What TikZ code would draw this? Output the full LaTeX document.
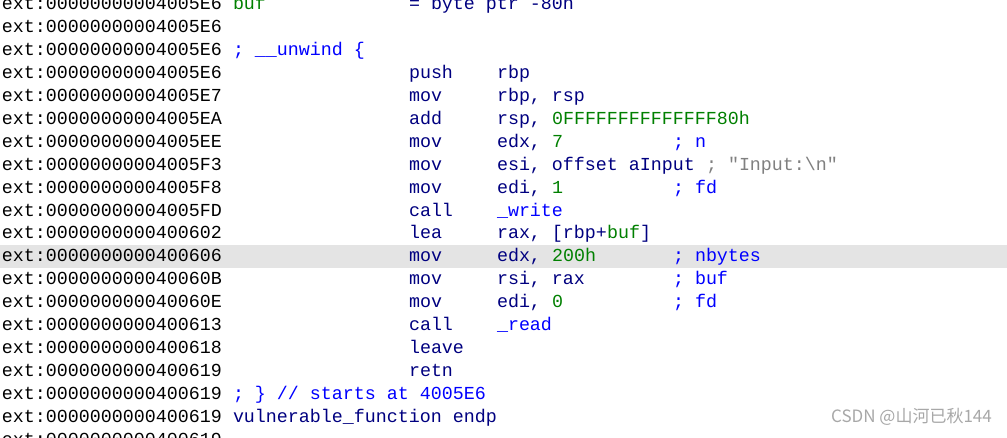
\documentclass[tikz,border=0pt]{standalone}
\usepackage{fontspec}
\setmonofont{Liberation Mono}
\newfontfamily\cjk{Noto Sans CJK SC}
\definecolor{navy}{HTML}{000080}
\definecolor{grn}{HTML}{008000}
\definecolor{blu}{HTML}{0000FF}
\definecolor{gry}{HTML}{808080}
\definecolor{hl}{HTML}{E4E4E4}
\definecolor{wm}{HTML}{A8A8A8}
\tikzset{tok/.style={anchor=base west,inner sep=0pt,outer sep=0pt,font=\ttfamily\fontsize{18.33}{20}\selectfont}}
\newcommand\tk[4]{\node[tok,text=#3] at ({(-20+#1*11)*1pt},{-(10+#2*22.9)*1pt}) {#4};}
\begin{document}
\begin{tikzpicture}[x=1pt,y=1pt]
\useasboundingbox (0,0) rectangle (1007,-438);
\clip (0,0) rectangle (1007,-438);
\fill[white] (0,0) rectangle (1007,-438);
\fill[hl] (0,-245) rectangle (1007,-268);
% addresses
\foreach \r/\a in {0/4005E6,1/4005E6,2/4005E6,3/4005E6,4/4005E7,5/4005EA,6/4005EE,7/4005F3,8/4005F8,9/4005FD,10/400602,11/400606,12/40060B,13/40060E,14/400613,15/400618,16/400619,17/400619,18/400619,19/400619}
  {\tk{0}{\r}{black}{.text:0000000000\a}}
\tk{23}{0}{grn}{buf}\tk{39}{0}{navy}{= byte ptr -80h}
\tk{23}{2}{blu}{; \_\_unwind \{}
\tk{39}{3}{navy}{push}\tk{47}{3}{navy}{rbp}
\tk{39}{4}{navy}{mov}\tk{47}{4}{navy}{rbp, rsp}
\tk{39}{5}{navy}{add}\tk{47}{5}{navy}{rsp,}\tk{52}{5}{grn}{0FFFFFFFFFFFFFF80h}
\tk{39}{6}{navy}{mov}\tk{47}{6}{navy}{edx,}\tk{52}{6}{grn}{7}\tk{63}{6}{blu}{; n}
\tk{39}{7}{navy}{mov}\tk{47}{7}{navy}{esi, offset aInput}\tk{66}{7}{gry}{; "Input:\textbackslash n"}
\tk{39}{8}{navy}{mov}\tk{47}{8}{navy}{edi,}\tk{52}{8}{grn}{1}\tk{63}{8}{blu}{; fd}
\tk{39}{9}{navy}{call}\tk{47}{9}{blu}{\_write}
\tk{39}{10}{navy}{lea}\tk{47}{10}{navy}{rax, [rbp+}\tk{57}{10}{grn}{buf}\tk{60}{10}{navy}{]}
\tk{39}{11}{navy}{mov}\tk{47}{11}{navy}{edx,}\tk{52}{11}{grn}{200h}\tk{63}{11}{blu}{; nbytes}
\tk{39}{12}{navy}{mov}\tk{47}{12}{navy}{rsi, rax}\tk{63}{12}{blu}{; buf}
\tk{39}{13}{navy}{mov}\tk{47}{13}{navy}{edi,}\tk{52}{13}{grn}{0}\tk{63}{13}{blu}{; fd}
\tk{39}{14}{navy}{call}\tk{47}{14}{blu}{\_read}
\tk{39}{15}{navy}{leave}
\tk{39}{16}{navy}{retn}
\tk{23}{17}{blu}{; \} // starts at 4005E6}
\tk{23}{18}{navy}{vulnerable\_function endp}
\node[anchor=east,inner sep=0pt,text=wm,font=\cjk\fontsize{17}{18}\selectfont] (wmk) at (992,-417) {CSDN @山河已秋144};
\end{tikzpicture}
\end{document}
